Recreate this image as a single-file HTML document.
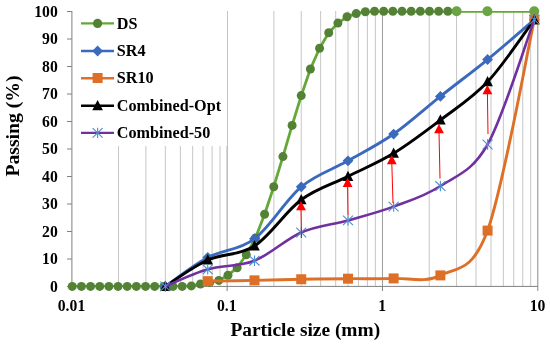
<!DOCTYPE html><html><head><meta charset="utf-8"><title>Particle size distribution</title>
<style>html,body{margin:0;padding:0;background:#fff}body{width:550px;height:346px;overflow:hidden}svg{display:block}text{font-family:"Liberation Serif","DejaVu Serif",serif;font-weight:bold;fill:#000}</style></head><body>
<svg width="550" height="346" viewBox="0 0 550 346">
<rect width="550" height="346" fill="#fff"/>
<g><line x1="118.56" y1="11" x2="118.56" y2="286" stroke="#c6c6c6" stroke-width="1"/><line x1="145.91" y1="11" x2="145.91" y2="286" stroke="#c6c6c6" stroke-width="1"/><line x1="165.32" y1="11" x2="165.32" y2="286" stroke="#c6c6c6" stroke-width="1"/><line x1="180.37" y1="11" x2="180.37" y2="286" stroke="#c6c6c6" stroke-width="1"/><line x1="192.67" y1="11" x2="192.67" y2="286" stroke="#c6c6c6" stroke-width="1"/><line x1="203.07" y1="11" x2="203.07" y2="286" stroke="#c6c6c6" stroke-width="1"/><line x1="212.08" y1="11" x2="212.08" y2="286" stroke="#c6c6c6" stroke-width="1"/><line x1="220.02" y1="11" x2="220.02" y2="286" stroke="#c6c6c6" stroke-width="1"/><line x1="227.13" y1="11" x2="227.13" y2="286" stroke="#9a9a9a" stroke-width="1"/><line x1="273.89" y1="11" x2="273.89" y2="286" stroke="#c6c6c6" stroke-width="1"/><line x1="301.24" y1="11" x2="301.24" y2="286" stroke="#c6c6c6" stroke-width="1"/><line x1="320.65" y1="11" x2="320.65" y2="286" stroke="#c6c6c6" stroke-width="1"/><line x1="335.70" y1="11" x2="335.70" y2="286" stroke="#c6c6c6" stroke-width="1"/><line x1="348.00" y1="11" x2="348.00" y2="286" stroke="#c6c6c6" stroke-width="1"/><line x1="358.40" y1="11" x2="358.40" y2="286" stroke="#c6c6c6" stroke-width="1"/><line x1="367.41" y1="11" x2="367.41" y2="286" stroke="#c6c6c6" stroke-width="1"/><line x1="375.35" y1="11" x2="375.35" y2="286" stroke="#c6c6c6" stroke-width="1"/><line x1="382.46" y1="11" x2="382.46" y2="286" stroke="#9a9a9a" stroke-width="1"/><line x1="429.22" y1="11" x2="429.22" y2="286" stroke="#c6c6c6" stroke-width="1"/><line x1="456.57" y1="11" x2="456.57" y2="286" stroke="#c6c6c6" stroke-width="1"/><line x1="475.98" y1="11" x2="475.98" y2="286" stroke="#c6c6c6" stroke-width="1"/><line x1="491.03" y1="11" x2="491.03" y2="286" stroke="#c6c6c6" stroke-width="1"/><line x1="503.33" y1="11" x2="503.33" y2="286" stroke="#c6c6c6" stroke-width="1"/><line x1="513.73" y1="11" x2="513.73" y2="286" stroke="#c6c6c6" stroke-width="1"/><line x1="522.74" y1="11" x2="522.74" y2="286" stroke="#c6c6c6" stroke-width="1"/><line x1="530.68" y1="11" x2="530.68" y2="286" stroke="#c6c6c6" stroke-width="1"/><line x1="537.79" y1="11" x2="537.79" y2="291" stroke="#8c8c8c" stroke-width="1"/></g>
<rect x="76" y="9" width="151.1" height="137" fill="#fff"/>
<g stroke="#808080" stroke-width="1" fill="none">
<line x1="71.9" y1="11" x2="71.9" y2="291"/>
<line x1="71.6" y1="286.4" x2="537.9" y2="286.4"/>
<line x1="227.13" y1="286" x2="227.13" y2="291"/>
<line x1="382.46" y1="286" x2="382.46" y2="291"/>
<line x1="67" y1="286.50" x2="71.9" y2="286.50"/>
<line x1="67" y1="259.00" x2="71.9" y2="259.00"/>
<line x1="67" y1="231.50" x2="71.9" y2="231.50"/>
<line x1="67" y1="204.00" x2="71.9" y2="204.00"/>
<line x1="67" y1="176.50" x2="71.9" y2="176.50"/>
<line x1="67" y1="149.00" x2="71.9" y2="149.00"/>
<line x1="67" y1="121.50" x2="71.9" y2="121.50"/>
<line x1="67" y1="94.00" x2="71.9" y2="94.00"/>
<line x1="67" y1="66.50" x2="71.9" y2="66.50"/>
<line x1="67" y1="39.00" x2="71.9" y2="39.00"/>
<line x1="67" y1="11.50" x2="71.9" y2="11.50"/>
</g>
<g font-size="15.7px" text-anchor="end">
<text x="57.8" y="291.90">0</text>
<text x="57.8" y="264.40">10</text>
<text x="57.8" y="236.90">20</text>
<text x="57.8" y="209.40">30</text>
<text x="57.8" y="181.90">40</text>
<text x="57.8" y="154.40">50</text>
<text x="57.8" y="126.90">60</text>
<text x="57.8" y="99.40">70</text>
<text x="57.8" y="71.90">80</text>
<text x="57.8" y="44.40">90</text>
<text x="57.8" y="16.90">100</text>
</g>
<g font-size="15.7px" text-anchor="middle">
<text x="71.50" y="310.6">0.01</text>
<text x="226.83" y="310.6">0.1</text>
<text x="382.16" y="310.6">1</text>
<text x="537.49" y="310.6">10</text>
</g>
<text x="305.3" y="336.4" font-size="19.4px" text-anchor="middle">Particle size (mm)</text>
<text transform="translate(18.6,126) rotate(-90)" font-size="19.7px" text-anchor="middle">Passing (%)</text>
<clipPath id="pc"><rect x="72" y="11" width="466" height="276"/></clipPath>
<path d="M72.25,286.40 L81.41,286.40 L90.57,286.40 L99.73,286.40 L108.89,286.40 L118.05,286.40 L127.21,286.40 L136.37,286.40 L145.53,286.40 L154.69,286.40 L163.85,286.40 L173.01,286.40 L182.17,286.40 L191.33,285.90 L200.49,284.00 L209.65,282.40 L218.81,280.40 L227.97,275.30 L237.13,267.70 L246.29,254.80 L255.45,238.00 L264.61,214.30 L273.77,186.70 L282.93,156.60 L292.09,125.40 L301.25,95.60 L310.41,69.00 L319.57,48.20 L328.73,32.70 L337.89,23.10 L347.05,16.80 L356.21,13.60 L365.37,11.80 L374.53,11.30 L383.69,11.30 L392.85,11.30 L402.01,11.30 L411.17,11.30 L420.33,11.30 L429.49,11.30 L438.65,11.30 L447.81,11.30 L456.60,11.30 L487.40,11.30 L534.20,11.30" fill="none" stroke="#64a838" stroke-width="2.8" stroke-linejoin="round" clip-path="url(#pc)"/>
<g fill="#548235"><circle cx="72.25" cy="286.40" r="4.5"/><circle cx="81.41" cy="286.40" r="4.5"/><circle cx="90.57" cy="286.40" r="4.5"/><circle cx="99.73" cy="286.40" r="4.5"/><circle cx="108.89" cy="286.40" r="4.5"/><circle cx="118.05" cy="286.40" r="4.5"/><circle cx="127.21" cy="286.40" r="4.5"/><circle cx="136.37" cy="286.40" r="4.5"/><circle cx="145.53" cy="286.40" r="4.5"/><circle cx="154.69" cy="286.40" r="4.5"/><circle cx="163.85" cy="286.40" r="4.5"/><circle cx="173.01" cy="286.40" r="4.5"/><circle cx="182.17" cy="286.40" r="4.5"/><circle cx="191.33" cy="285.90" r="4.5"/><circle cx="200.49" cy="284.00" r="4.5"/><circle cx="209.65" cy="282.40" r="4.5"/><circle cx="218.81" cy="280.40" r="4.5"/><circle cx="227.97" cy="275.30" r="4.5"/><circle cx="237.13" cy="267.70" r="4.5"/><circle cx="246.29" cy="254.80" r="4.5"/><circle cx="255.45" cy="238.00" r="4.5"/><circle cx="264.61" cy="214.30" r="4.5"/><circle cx="273.77" cy="186.70" r="4.5"/><circle cx="282.93" cy="156.60" r="4.5"/><circle cx="292.09" cy="125.40" r="4.5"/><circle cx="301.25" cy="95.60" r="4.5"/><circle cx="310.41" cy="69.00" r="4.5"/><circle cx="319.57" cy="48.20" r="4.5"/><circle cx="328.73" cy="32.70" r="4.5"/><circle cx="337.89" cy="23.10" r="4.5"/><circle cx="347.05" cy="16.80" r="4.5"/><circle cx="356.21" cy="13.60" r="4.5"/><circle cx="365.37" cy="11.80" r="4.5"/><circle cx="374.53" cy="11.30" r="4.5"/><circle cx="383.69" cy="11.30" r="4.5"/><circle cx="392.85" cy="11.30" r="4.5"/><circle cx="402.01" cy="11.30" r="4.5"/><circle cx="411.17" cy="11.30" r="4.5"/><circle cx="420.33" cy="11.30" r="4.5"/><circle cx="429.49" cy="11.30" r="4.5"/><circle cx="438.65" cy="11.30" r="4.5"/><circle cx="447.81" cy="11.30" r="4.5"/></g>
<g fill="#6aa444"><circle cx="456.60" cy="11.30" r="5"/><circle cx="487.40" cy="11.30" r="5"/><circle cx="534.20" cy="11.30" r="5"/></g>
<path d="M165.32,286.40 C172.39,281.59 192.86,265.45 207.72,257.52 C222.58,249.60 238.90,250.60 254.48,238.83 C270.07,227.05 285.65,199.84 301.24,186.85 C316.83,173.86 332.60,169.66 348.00,160.86 C363.40,152.06 378.23,144.80 393.63,134.05 C409.02,123.30 424.73,108.80 440.38,96.38 C456.04,83.95 471.91,72.31 487.57,59.52 C503.23,46.74 526.54,26.30 534.33,19.65" fill="none" stroke="#3b69be" stroke-width="2.9" stroke-linecap="round"/>
<g fill="#3b69be"><path d="M165.32,281.00 l5.4,5.4 l-5.4,5.4 l-5.4,-5.4z"/><path d="M207.72,252.12 l5.4,5.4 l-5.4,5.4 l-5.4,-5.4z"/><path d="M254.48,233.43 l5.4,5.4 l-5.4,5.4 l-5.4,-5.4z"/><path d="M301.24,181.45 l5.4,5.4 l-5.4,5.4 l-5.4,-5.4z"/><path d="M348.00,155.46 l5.4,5.4 l-5.4,5.4 l-5.4,-5.4z"/><path d="M393.63,128.65 l5.4,5.4 l-5.4,5.4 l-5.4,-5.4z"/><path d="M440.38,90.98 l5.4,5.4 l-5.4,5.4 l-5.4,-5.4z"/><path d="M487.57,54.12 l5.4,5.4 l-5.4,5.4 l-5.4,-5.4z"/><path d="M534.33,14.25 l5.4,5.4 l-5.4,5.4 l-5.4,-5.4z"/></g>
<path d="M207.72,281.17 C215.52,281.04 238.90,280.67 254.48,280.35 C270.07,280.03 285.65,279.52 301.24,279.25 C316.83,278.98 332.60,278.84 348.00,278.70 C363.40,278.56 378.23,278.97 393.63,278.42 C409.02,277.87 424.73,283.37 440.38,275.40 C456.04,267.43 471.91,273.20 487.57,230.58 C503.23,187.95 526.54,54.80 534.33,19.65" fill="none" stroke="#de6f27" stroke-width="2.9" stroke-linecap="round"/>
<g fill="#de6f27"><rect x="202.72" y="276.17" width="10" height="10"/><rect x="249.48" y="275.35" width="10" height="10"/><rect x="296.24" y="274.25" width="10" height="10"/><rect x="343.00" y="273.70" width="10" height="10"/><rect x="388.63" y="273.42" width="10" height="10"/><rect x="435.38" y="270.40" width="10" height="10"/><rect x="482.57" y="225.58" width="10" height="10"/><rect x="529.33" y="14.65" width="10" height="10"/></g>
<path d="M165.32,286.40 C172.39,282.00 192.86,266.74 207.72,260.00 C222.58,253.26 238.90,256.01 254.48,245.97 C270.07,235.94 285.65,211.37 301.24,199.78 C316.83,188.18 332.60,184.15 348.00,176.40 C363.40,168.65 378.23,162.70 393.63,153.30 C409.02,143.90 424.73,131.94 440.38,120.03 C456.04,108.11 471.91,98.53 487.57,81.80 C503.23,65.07 526.54,30.01 534.33,19.65" fill="none" stroke="#000" stroke-width="2.9" stroke-linecap="round"/>
<g fill="#000"><path d="M165.32,280.70 l5.3,10.2 h-10.6z"/><path d="M207.72,254.30 l5.3,10.2 h-10.6z"/><path d="M254.48,240.28 l5.3,10.2 h-10.6z"/><path d="M301.24,194.08 l5.3,10.2 h-10.6z"/><path d="M348.00,170.70 l5.3,10.2 h-10.6z"/><path d="M393.63,147.60 l5.3,10.2 h-10.6z"/><path d="M440.38,114.33 l5.3,10.2 h-10.6z"/><path d="M487.57,76.10 l5.3,10.2 h-10.6z"/><path d="M534.33,13.95 l5.3,10.2 h-10.6z"/></g>
<path d="M165.32,286.40 C172.39,283.56 192.86,273.64 207.72,269.35 C222.58,265.06 238.90,266.83 254.48,260.69 C270.07,254.55 285.65,239.21 301.24,232.50 C316.83,225.79 332.60,224.71 348.00,220.40 C363.40,216.09 378.23,212.38 393.63,206.65 C409.02,200.92 424.73,196.38 440.38,186.03 C456.04,175.67 471.91,172.23 487.57,144.50 C503.23,116.77 526.54,40.46 534.33,19.65" fill="none" stroke="#7030a0" stroke-width="2.6" stroke-linecap="round"/>
<g stroke="#4f8fd0" stroke-width="1.15" fill="none"><path d="M165.32,281.20 v10.4 M160.32,281.60 l10,9.6 M170.32,281.60 l-10,9.6"/><path d="M207.72,264.15 v10.4 M202.72,264.55 l10,9.6 M212.72,264.55 l-10,9.6"/><path d="M254.48,255.49 v10.4 M249.48,255.89 l10,9.6 M259.48,255.89 l-10,9.6"/><path d="M301.24,227.30 v10.4 M296.24,227.70 l10,9.6 M306.24,227.70 l-10,9.6"/><path d="M348.00,215.20 v10.4 M343.00,215.60 l10,9.6 M353.00,215.60 l-10,9.6"/><path d="M393.63,201.45 v10.4 M388.63,201.85 l10,9.6 M398.63,201.85 l-10,9.6"/><path d="M440.38,180.83 v10.4 M435.38,181.22 l10,9.6 M445.38,181.22 l-10,9.6"/><path d="M487.57,139.30 v10.4 M482.57,139.70 l10,9.6 M492.57,139.70 l-10,9.6"/><path d="M534.33,14.45 v10.4 M529.33,14.85 l10,9.6 M539.33,14.85 l-10,9.6"/></g>
<line x1="301.00" y1="209.00" x2="301.50" y2="238.00" stroke="#ff0000" stroke-width="1"/>
<path d="M301.00,201.00 l4.9,9.3 h-9.8z" fill="#ff0000"/>
<line x1="347.60" y1="185.70" x2="348.00" y2="215.00" stroke="#ff0000" stroke-width="1"/>
<path d="M347.60,177.70 l4.9,9.3 h-9.8z" fill="#ff0000"/>
<line x1="391.80" y1="163.00" x2="393.00" y2="203.00" stroke="#ff0000" stroke-width="1"/>
<path d="M391.80,155.00 l4.9,9.3 h-9.8z" fill="#ff0000"/>
<line x1="439.00" y1="132.00" x2="440.00" y2="178.50" stroke="#ff0000" stroke-width="1"/>
<path d="M439.00,124.00 l4.9,9.3 h-9.8z" fill="#ff0000"/>
<line x1="487.40" y1="93.00" x2="488.00" y2="134.00" stroke="#ff0000" stroke-width="1"/>
<path d="M487.40,85.00 l4.9,9.3 h-9.8z" fill="#ff0000"/>
<line x1="81" y1="23.40" x2="114" y2="23.40" stroke="#64a838" stroke-width="2.4"/>
<text x="116.7" y="28.90" font-size="16.2px">DS</text>
<line x1="81" y1="51.00" x2="114" y2="51.00" stroke="#3b69be" stroke-width="2.4"/>
<text x="116.7" y="55.90" font-size="16.2px">SR4</text>
<line x1="81" y1="78.30" x2="114" y2="78.30" stroke="#de6f27" stroke-width="2.4"/>
<text x="116.7" y="83.40" font-size="16.2px">SR10</text>
<line x1="81" y1="105.80" x2="114" y2="105.80" stroke="#000" stroke-width="2.4"/>
<text x="116.7" y="111.20" font-size="16.2px">Combined-Opt</text>
<line x1="81" y1="132.90" x2="114" y2="132.90" stroke="#7030a0" stroke-width="2.4"/>
<text x="116.7" y="138.30" font-size="16.2px">Combined-50</text>
<circle cx="97.60" cy="23.4" r="4.6" fill="#548235"/>
<path d="M97.60,45.6 l5.4,5.4 l-5.4,5.4 l-5.4,-5.4z" fill="#3b69be"/>
<rect x="92.60" y="73" width="10" height="10" fill="#de6f27"/>
<path d="M97.60,100.1 l5.3,10.2 h-10.6z" fill="#000"/>
<path d="M97.60,127.70 v10.4 M92.60,128.10 l10,9.6 M102.60,128.10 l-10,9.6" stroke="#4f8fd0" stroke-width="1.15" fill="none"/>
</svg></body></html>
